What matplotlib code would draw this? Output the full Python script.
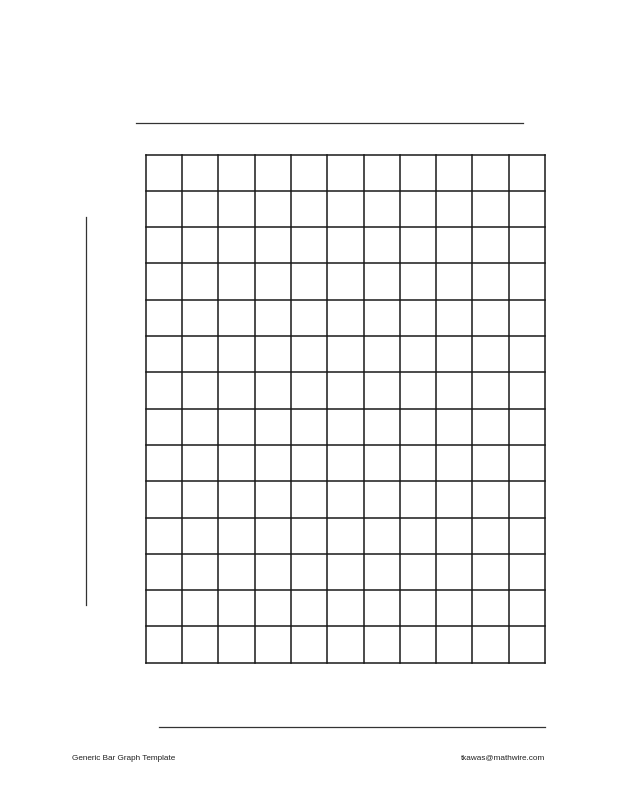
import matplotlib.pyplot as plt
import numpy as np

# blank bar graph template: grid size and footer text
n_cols = 11
n_rows = 14
footer_left = 'Generic Bar Graph Template'
footer_right = 'tkawas@mathwire.com'

fig = plt.figure(figsize=(6.18, 8), dpi=100)
ax = fig.add_axes([0, 0, 1, 1])
ax.set_xlim(0, 618)
ax.set_ylim(800, 0)
ax.axis('off')

# grid box (page pixel coords)
gx0, gx1 = 145.8, 545
gy0, gy1 = 154.5, 662.7
xs = np.linspace(gx0, gx1, n_cols + 1)
ys = np.linspace(gy0, gy1, n_rows + 1)
for x in xs:
    ax.plot([x, x], [gy0, gy1], color='#1a1a1a', lw=1.1, solid_capstyle='projecting')
for y in ys:
    ax.plot([gx0, gx1], [y, y], color='#1a1a1a', lw=1.1, solid_capstyle='projecting')

# title line, y-axis label line, x-axis label line
ax.plot([136, 523], [122.7, 122.7], color='#333333', lw=0.9)
ax.plot([86, 86], [217, 604.5], color='#333333', lw=0.9)
ax.plot([159, 545], [727.3, 727.3], color='#333333', lw=0.9)

ax.text(72.5, 758, footer_left, fontsize=5.9, family='Liberation Sans',
        ha='left', va='center', color='#222222')
ax.text(545, 758, footer_right, fontsize=5.9, family='Liberation Sans',
        ha='right', va='center', color='#222222')

fig.savefig('out.png', dpi=100, facecolor='white')
